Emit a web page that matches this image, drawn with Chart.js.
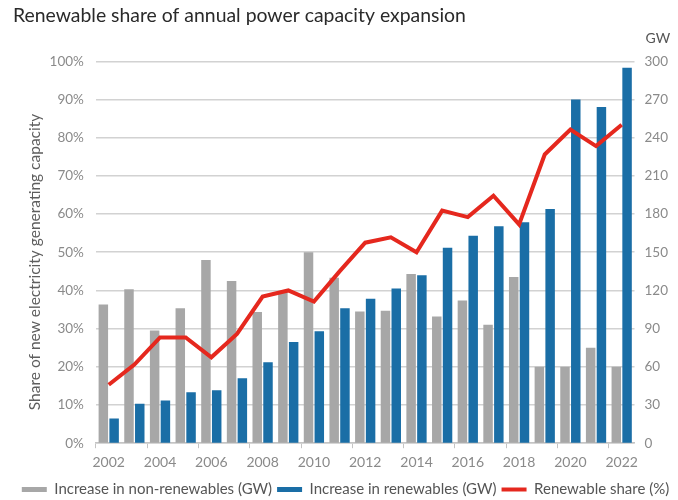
<!DOCTYPE html>
<html>
<head>
<meta charset="utf-8">
<script src="https://cdn.jsdelivr.net/npm/chart.js@4.4.1/dist/chart.umd.min.js"></script>
<style>
  body { margin: 0; background: #fff; }
  #wrap { width: 678px; height: 500px; }
</style>
</head>
<body>
<div id="wrap"><canvas id="capChart"></canvas></div>
<script>
// years on the x axis
const years = ["2002","2003","2004","2005","2006","2007","2008","2009","2010","2011","2012",
  "2013","2014","2015","2016","2017","2018","2019","2020","2021","2022"];
// GW added per year
const nonRenewGW = [109, 121, 88.5, 106, 144, 127.5, 103, 119, 150, 130, 103.5,
  104, 133, 99.5, 112, 93, 130.5, 60, 60, 75, 60];
const renewGW = [19.5, 31, 33.5, 40, 41.5, 51, 63.5, 79.5, 88, 106, 113.5,
  121.5, 132, 153.5, 163, 170.5, 173.5, 184, 270, 264, 295];
// renewable share of new capacity, %
const renewShare = [15.3, 20.6, 27.7, 27.7, 22.5, 28.6, 38.4, 40, 37.1, 45, 52.5,
  53.9, 50, 60.9, 59.2, 64.8, 57.3, 75.6, 82.1, 77.8, 83.4];

const fontFam = "Lato, 'Noto Sans', sans-serif";
const greyTxt = "#8a8a8a";

// unit label sitting above the right-hand axis
const gwLabel = {
  id: "gwLabel",
  afterDraw(chart) {
    const s = chart.scales.gw;
    const c = chart.ctx;
    c.save();
    c.font = "14px " + fontFam;
    c.fillStyle = "#555";
    c.textBaseline = "middle";
    c.fillText("GW", s.left + 11, chart.chartArea.top - 23);
    c.restore();
  }
};

const ctx = document.getElementById("capChart").getContext("2d");
const capChart = new Chart(ctx, {
  type: "bar",
  data: {
    labels: years,
    datasets: [{
      label: "Increase in non-renewables (GW)",
      data: nonRenewGW,
      backgroundColor: "#a7a7a7",
      yAxisID: "gw",
      order: 1,
      pointStyle: "rect",
      categoryPercentage: 0.84,
      barPercentage: 0.88
    }, {
      label: "Increase in renewables (GW)",
      data: renewGW,
      backgroundColor: "#1a6ea6",
      yAxisID: "gw",
      order: 1,
      pointStyle: "rect",
      categoryPercentage: 0.84,
      barPercentage: 0.88
    }, {
      type: "line",
      label: "Renewable share (%)",
      data: renewShare,
      borderColor: "#e5281e",
      backgroundColor: "#e5281e",
      borderWidth: 4,
      pointRadius: 0,
      pointStyle: "line",
      tension: 0,
      yAxisID: "pct",
      order: 0
    }]
  },
  plugins: [gwLabel],
  options: {
    responsive: true,
    maintainAspectRatio: false,
    animation: false,
    layout: { padding: { left: 13, right: 0, top: 2, bottom: -7 } },
    plugins: {
      title: {
        display: true,
        text: "Renewable share of annual power capacity expansion",
        align: "start",
        color: "#2a2a2a",
        font: { family: fontFam, size: 19.4, weight: "normal" },
        padding: { top: 2, bottom: 34 }
      },
      legend: {
        position: "bottom",
        labels: {
          usePointStyle: true,
          pointStyleWidth: 25,
          boxHeight: 5,
          color: "#555",
          padding: 5,
          font: { family: fontFam, size: 15 },
          sort: (a, b) => a.datasetIndex - b.datasetIndex
        }
      },
      tooltip: { enabled: false }
    },
    scales: {
      x: {
        grid: {
          offset: true,
          drawOnChartArea: false,
          tickLength: 5,
          color: c => (c.index % 2 === 0 ? "#c4c4c4" : "rgba(0,0,0,0)")
        },
        border: { color: "#c4c4c4", width: 1.5 },
        ticks: {
          autoSkip: false,
          maxRotation: 0,
          padding: 6,
          color: greyTxt,
          font: { family: fontFam, size: 14 },
          callback: function (v, i) { return i % 2 === 0 ? this.getLabelForValue(v) : ""; }
        }
      },
      pct: {
        position: "left",
        min: 0,
        max: 100,
        ticks: {
          stepSize: 10,
          color: greyTxt,
          padding: 12,
          font: { family: fontFam, size: 13.5 },
          callback: v => v + "%"
        },
        grid: { color: "#d2d2d2", lineWidth: 1.5, drawTicks: false },
        border: { display: false },
        title: {
          display: true,
          text: "Share of new electricity generating capacity\u00A0\u00A0\u00A0\u00A0\u00A0",
          color: "#5e5e5e",
          font: { family: fontFam, size: 15.5 },
          padding: { top: 13, bottom: -7 }
        }
      },
      gw: {
        position: "right",
        min: 0,
        max: 300,
        ticks: {
          stepSize: 30,
          color: greyTxt,
          padding: 10,
          font: { family: fontFam, size: 13.5 }
        },
        grid: { drawOnChartArea: false, drawTicks: false },
        border: { display: false }
      }
    }
  }
});
</script>
</body>
</html>
